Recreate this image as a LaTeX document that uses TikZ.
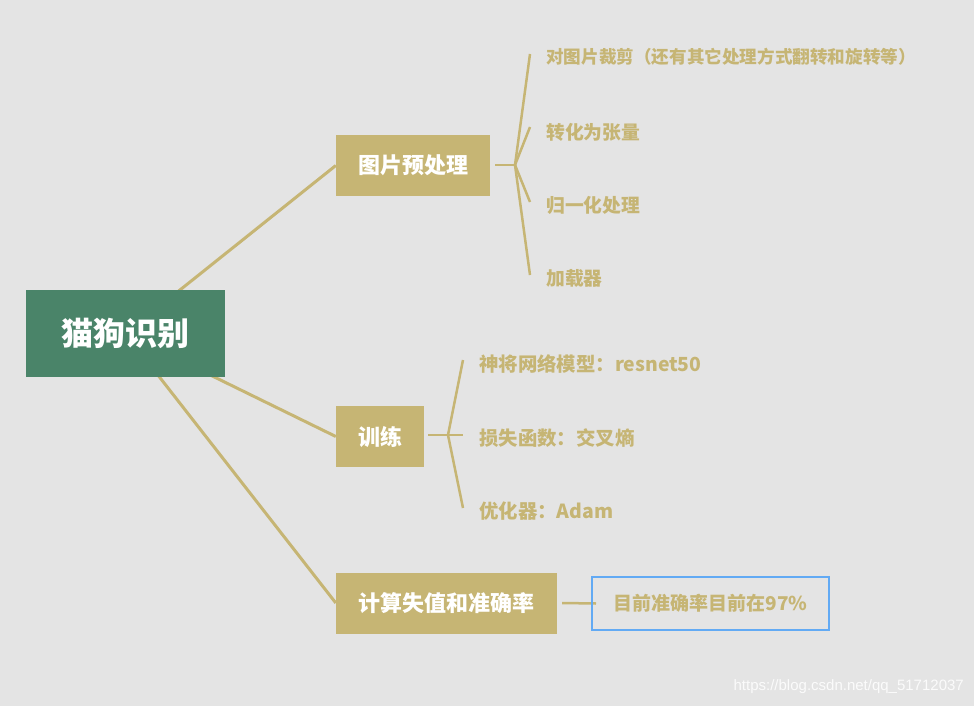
\documentclass[tikz,border=0pt]{standalone}
\usepackage{fontspec}
\setmainfont{Noto Sans CJK SC}
\newfontfamily\wmfont{Liberation Sans}
\usetikzlibrary{backgrounds}
\definecolor{bgc}{HTML}{E4E4E4}
\definecolor{gold}{HTML}{C6B574}
\definecolor{rootg}{HTML}{4A8469}
\definecolor{blueb}{HTML}{62AAF4}
\tikzset{
  rootbox/.style={fill=rootg, text=white, font=\fontsize{32}{36}\selectfont\bfseries, minimum width=199pt, minimum height=87pt, inner sep=0pt},
  mainbox/.style={fill=gold, text=white, font=\fontsize{22}{25}\selectfont\bfseries, minimum height=61pt, inner sep=0pt},
  leafA/.style={text=gold, font=\fontsize{18.8}{21}\selectfont\bfseries, anchor=west, inner sep=0pt},
  leafB/.style={text=gold, font=\fontsize{19.4}{22}\selectfont\bfseries, anchor=west, inner sep=0pt},
  resbox/.style={draw=blueb, line width=2pt, text=gold, font=\fontsize{19}{22}\selectfont\bfseries, minimum width=237pt, minimum height=53pt, inner sep=0pt},
  conn/.style={draw=gold, line width=3pt},
  twig/.style={draw=gold, line width=2.5pt},
}
\begin{document}
\begin{tikzpicture}[x=1pt,y=-1pt]
\useasboundingbox (0,0) rectangle (974,706);
\node[rootbox] (root) at (125.5,333.5) {猫狗识别};
\node[mainbox, minimum width=154pt] (pre) at (413,165.5) {图片预处理};
\node[mainbox, minimum width=88pt] (train) at (380,436.5) {训练};
\node[mainbox, minimum width=221pt] (calc) at (446.5,603) {计算失值和准确率};
\node[resbox] (res) at (710.5,603.5) {目前准确率目前在97\%};

\node[leafA, font=\fontsize{17.6}{21}\selectfont\bfseries] (a1) at (546,57) {对图片裁剪（还有其它处理方式翻转和旋转等）};
\node[leafA] (a2) at (546,132) {转化为张量};
\node[leafA] (a3) at (546,205) {归一化处理};
\node[leafA] (a4) at (546,278) {加载器};

\node[leafB] (b1) at (479,364) {神将网络模型：resnet50};
\node[leafB] (b2) at (479,438) {损失函数：交叉熵};
\node[leafB] (b3) at (479,511) {优化器：Adam};

\node[text=white!97!gray, font=\wmfont\fontsize{15}{18}\selectfont, anchor=east, inner sep=0pt] (wm) at (964,687) {https://blog.csdn.net/qq\_51712037};

\coordinate (pa) at (515,165);
\coordinate (pa0) at (495,165);
\coordinate (ea1) at (530,54);
\coordinate (ea2) at (530,127);
\coordinate (ea3) at (530,202);
\coordinate (ea4) at (530,275);
\coordinate (tb0) at (428,435);
\coordinate (tb) at (448,435);
\coordinate (tb2) at (463,435);
\coordinate (eb1) at (463,360);
\coordinate (eb3) at (463,508);

\begin{scope}[on background layer]
\fill[bgc] (0,0) rectangle (974,706);
\draw[conn] (root.center) -- (pre.west);
\draw[conn] (root.center) -- (train.west);
\draw[conn] (root.center) -- (calc.west);
\draw[twig] (pa0) -- (pa);
\draw[twig] (pa) -- (ea1);
\draw[twig] (pa) -- (ea2);
\draw[twig] (pa) -- (ea3);
\draw[twig] (pa) -- (ea4);
\draw[twig] (tb0) -- (tb2);
\draw[twig] (tb) -- (eb1);
\draw[twig] (tb) -- (eb3);
\draw[twig] ([xshift=5pt]calc.east) -- ([xshift=5pt]res.west);
\end{scope}
\end{tikzpicture}
\end{document}
